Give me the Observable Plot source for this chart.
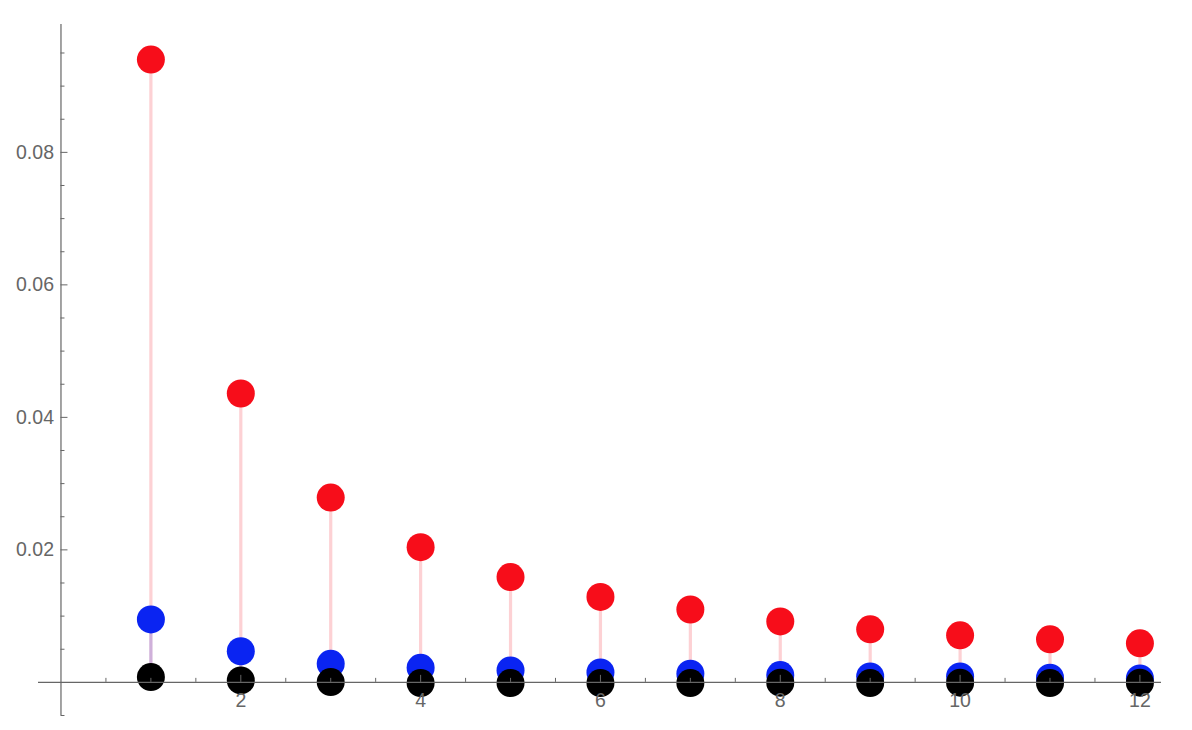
<!DOCTYPE html>
<html>
<head>
<meta charset="utf-8">
<script src="https://cdn.jsdelivr.net/npm/d3@7"></script>
<script src="https://cdn.jsdelivr.net/npm/@observablehq/plot@0.6"></script>
<style>
  html, body { margin: 0; padding: 0; background: #fff; }
  #chart svg { display: block; }
</style>
</head>
<body>
<div id="chart"></div>
<script>
// ---- data ----
const n = [1, 2, 3, 4, 5, 6, 7, 8, 9, 10, 11, 12];
const redValues = [0.0940, 0.0436, 0.0279, 0.0204, 0.0159, 0.0129, 0.0110, 0.0092, 0.0080, 0.0071, 0.0065, 0.0059];
const blueValues = [0.0095, 0.0047, 0.0028, 0.0022, 0.0018, 0.0015, 0.0013, 0.0011, 0.0009, 0.0009, 0.0007, 0.0006];
const blackValues = [0.0008, 0.0003, 0.00005, -0.0001, -0.0001, -0.0001, -0.0001, -0.00005, -0.0001, -0.00005, -0.0001, -0.00005];

const xMajorTicks = [2, 4, 6, 8, 10, 12];
const xMinorTicks = [0.5, 1, 1.5, 2.5, 3, 3.5, 4.5, 5, 5.5, 6.5, 7, 7.5, 8.5, 9, 9.5, 10.5, 11, 11.5];
const yMajorTicks = [0.02, 0.04, 0.06, 0.08];
const yMinorTicks = [-0.005, 0.005, 0.01, 0.015, 0.025, 0.03, 0.035, 0.045, 0.05, 0.055, 0.065, 0.07, 0.075, 0.085, 0.09, 0.095];
const yTickLabels = ["0.02", "0.04", "0.06", "0.08"];

const xDomain = [-0.25, 12.24];
const yDomain = [-0.005, 0.0993];

const seriesNames = ["red", "blue", "black"];
const seriesColors = ["#f70d1a", "#0a24f2", "#000000"];

// ---- build table ----
const allValues = [redValues, blueValues, blackValues];
const rows = [];
seriesNames.forEach((s, k) => {
  n.forEach((x, i) => rows.push({ n: x, v: allValues[k][i], s }));
});
const bySeries = (s) => rows.filter((d) => d.s === s);

const axisColor = "#666666";
const font = "'Liberation Sans', Arial, Helvetica, sans-serif";

const marks = [];
// stems
seriesNames.forEach((s, k) => {
  marks.push(Plot.ruleX(bySeries(s), {
    x: "n", y1: 0, y2: "v",
    stroke: seriesColors[k], strokeWidth: 3.2, strokeOpacity: 0.19
  }));
});
// dots
seriesNames.forEach((s, k) => {
  marks.push(Plot.dot(bySeries(s), {
    x: "n", y: "v", r: 14, fill: seriesColors[k], stroke: "none"
  }));
});
// axes lines
marks.push(Plot.ruleY([0], { x1: xDomain[0], x2: xDomain[1], stroke: axisColor, strokeWidth: 1.2 }));
marks.push(Plot.ruleX([0], { y1: yDomain[0], y2: yDomain[1], stroke: axisColor, strokeWidth: 1.2 }));
// x ticks (inward, i.e. upward)
marks.push(Plot.ruleX(xMajorTicks, { x: (d) => d, y1: 0, y2: 0, insetTop: -7, insetBottom: 0, stroke: axisColor, strokeWidth: 1 }));
marks.push(Plot.ruleX(xMinorTicks, { x: (d) => d, y1: 0, y2: 0, insetTop: -4, insetBottom: 0, stroke: axisColor, strokeWidth: 1 }));
// y ticks (inward, i.e. rightward)
marks.push(Plot.ruleY(yMajorTicks, { y: (d) => d, x1: 0, x2: 0, insetRight: -7, insetLeft: 0, stroke: axisColor, strokeWidth: 1 }));
marks.push(Plot.ruleY(yMinorTicks, { y: (d) => d, x1: 0, x2: 0, insetRight: -4, insetLeft: 0, stroke: axisColor, strokeWidth: 1 }));
// tick labels
marks.push(Plot.text(xMajorTicks, {
  x: (d) => d, y: 0, text: (d) => String(d), dy: 18,
  fill: axisColor, fontSize: 19.5, fontFamily: font, textAnchor: "middle", lineAnchor: "middle"
}));
marks.push(Plot.text(yMajorTicks, {
  x: 0, y: (d) => d, text: (d, i) => yTickLabels[i], dx: -7,
  fill: axisColor, fontSize: 19.5, fontFamily: font, textAnchor: "end", lineAnchor: "middle"
}));

const chart = Plot.plot({
  width: 1192,
  height: 730,
  margin: 0,
  x: { type: "linear", domain: xDomain, range: [38, 1161], axis: null },
  y: { type: "linear", domain: yDomain, range: [715, 24], axis: null },
  style: { background: "#fff", fontFamily: font, overflow: "visible" },
  marks
});
document.getElementById("chart").appendChild(chart);
</script>
</body>
</html>
